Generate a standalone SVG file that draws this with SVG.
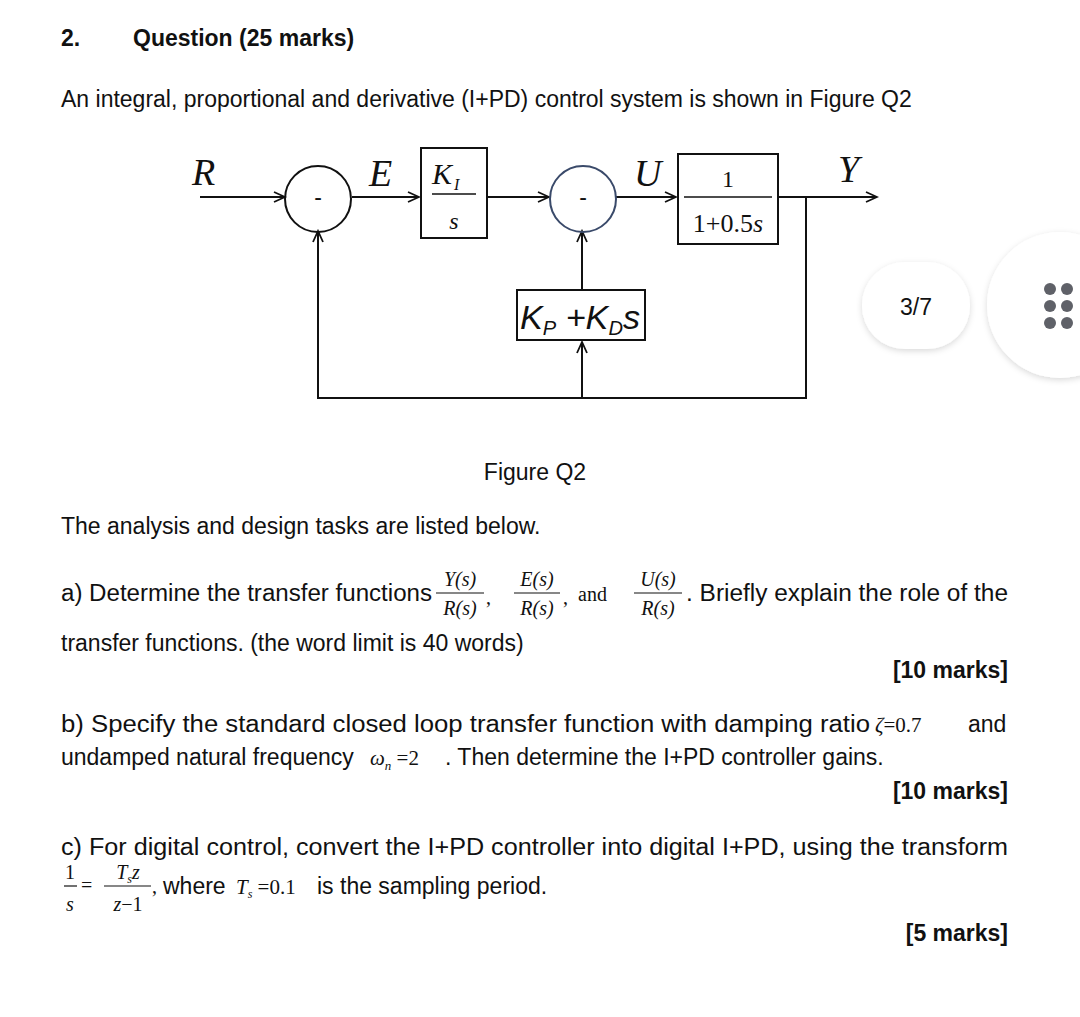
<svg xmlns="http://www.w3.org/2000/svg" width="1080" height="1017" viewBox="0 0 1080 1017">
<style>
.t{font-family:"Liberation Sans",Arial,sans-serif;font-size:23px;fill:#111}
.b{font-weight:bold}
.m{font-family:"Liberation Serif","Times New Roman",serif;fill:#111}
.i{font-style:italic}
.ln{stroke:#111;stroke-width:2;fill:none}
</style>
<defs>
<marker id="ar" markerWidth="14" markerHeight="12" refX="12" refY="6" orient="auto" markerUnits="userSpaceOnUse">
<path d="M1,1 L12,6 L1,11" fill="none" stroke="#111" stroke-width="1.8"/>
</marker>
<filter id="sh" x="-20%" y="-20%" width="140%" height="150%"><feDropShadow dx="0" dy="2" stdDeviation="3" flood-color="#000" flood-opacity="0.15"/></filter>
</defs>
<rect width="1080" height="1017" fill="#fff"/>
<text class="t b" x="61" y="46">2.</text>
<text class="t b" x="133" y="46">Question (25 marks)</text>
<text class="t" x="61" y="107">An integral, proportional and derivative (I+PD) control system is shown in Figure Q2</text>

<g id="connectors">
<line class="ln" x1="200" y1="197" x2="285" y2="197" marker-end="url(#ar)"/>
<line class="ln" x1="352" y1="197" x2="419" y2="197" marker-end="url(#ar)"/>
<line class="ln" x1="488" y1="197" x2="549" y2="197" marker-end="url(#ar)"/>
<line class="ln" x1="616" y1="197" x2="676" y2="197" marker-end="url(#ar)"/>
<line class="ln" x1="779" y1="197" x2="877" y2="197" marker-end="url(#ar)"/>
<polyline class="ln" points="806,197 806,398 318,398 318,231" marker-end="url(#ar)"/>
<line class="ln" x1="582" y1="398" x2="582" y2="342" marker-end="url(#ar)"/>
<line class="ln" x1="582" y1="290" x2="582" y2="231" marker-end="url(#ar)"/>
</g>
<text class="m i" x="192" y="185" font-size="38">R</text>
<text class="m i" x="369" y="186" font-size="38">E</text>
<text class="m i" x="634" y="186" font-size="38">U</text>
<text class="m i" x="838" y="182" font-size="38">Y</text>

<g id="sum1"><circle class="ln" cx="318" cy="199" r="33"/><text class="t" x="318" y="205" text-anchor="middle">-</text></g>
<g id="ki"><rect class="ln" x="421" y="148" width="66" height="90"/>
<line x1="432" y1="194" x2="476" y2="194" stroke="#111" stroke-width="1.5"/>
<text class="m i" x="432" y="184" font-size="30">K</text><text class="m i" x="454" y="190" font-size="16">I</text>
<text class="m i" x="454" y="229" font-size="24" text-anchor="middle">s</text></g>
<g id="sum2"><circle cx="583" cy="199" r="33" fill="none" stroke="#3a4a6a" stroke-width="2"/><text class="t" x="583" y="205" text-anchor="middle">-</text></g>
<g id="plant"><rect class="ln" x="678" y="154" width="100" height="90"/>
<line x1="684" y1="197" x2="772" y2="197" stroke="#111" stroke-width="1.5"/>
<text class="m" x="728" y="187" font-size="24" text-anchor="middle">1</text>
<text class="m" x="728" y="232" font-size="26" text-anchor="middle">1+0.5<tspan font-style="italic">s</tspan></text></g>
<g id="kpd"><rect class="ln" x="517" y="290" width="128" height="50"/>
<text class="i" font-family="'Liberation Sans',Arial,sans-serif" fill="#111" x="520" y="329" font-size="34" textLength="120" lengthAdjust="spacingAndGlyphs">K<tspan font-size="20" dy="6">P</tspan><tspan dy="-6"> +K</tspan><tspan font-size="20" dy="6">D</tspan><tspan dy="-6">s</tspan></text></g>

<g id="pill"><rect x="862" y="262" width="108" height="87" rx="43" fill="#fff" filter="url(#sh)"/><text class="t" x="916" y="315" font-size="25" fill="#333" text-anchor="middle">3/7</text></g>
<g id="menu"><circle cx="1060" cy="305" r="73" fill="#fff" filter="url(#sh)"/>
<g fill="#5f6168"><circle cx="1050" cy="289" r="6"/><circle cx="1067" cy="289" r="6"/><circle cx="1050" cy="306" r="6"/><circle cx="1067" cy="306" r="6"/><circle cx="1050" cy="323" r="6"/><circle cx="1067" cy="323" r="6"/></g></g>

<text class="t" x="535" y="480" text-anchor="middle">Figure Q2</text>
<text class="t" x="61" y="534">The analysis and design tasks are listed below.</text>

<text class="t" x="61" y="601" textLength="371" lengthAdjust="spacingAndGlyphs">a) Determine the transfer functions</text>
<g class="m" font-size="20">
<text class="i" x="460" y="586" text-anchor="middle">Y(s)</text><line x1="436" y1="593" x2="484" y2="593" stroke="#111" stroke-width="1.2"/><text class="i" x="460" y="615" text-anchor="middle">R(s)</text><text x="486" y="604">,</text>
<text class="i" x="537" y="586" text-anchor="middle">E(s)</text><line x1="514" y1="593" x2="560" y2="593" stroke="#111" stroke-width="1.2"/><text class="i" x="537" y="615" text-anchor="middle">R(s)</text><text x="563" y="604">,</text>
<text x="578" y="601">and</text>
<text class="i" x="658" y="586" text-anchor="middle">U(s)</text><line x1="634" y1="593" x2="682" y2="593" stroke="#111" stroke-width="1.2"/><text class="i" x="658" y="615" text-anchor="middle">R(s)</text>
</g>
<text class="t" x="686" y="601" textLength="322" lengthAdjust="spacingAndGlyphs">. Briefly explain the role of the</text>
<text class="t" x="61" y="651">transfer functions. (the word limit is 40 words)</text>
<text class="t b" x="1008" y="678" text-anchor="end">[10 marks]</text>

<text class="t" x="61" y="732" textLength="809" lengthAdjust="spacingAndGlyphs">b) Specify the standard closed loop transfer function with damping ratio</text>
<text class="m" x="875" y="732" font-size="21"><tspan font-style="italic">ζ</tspan>=0.7</text>
<text class="t" x="968" y="732">and</text>
<text class="t" x="61" y="765">undamped natural frequency</text>
<text class="m" x="370" y="765" font-size="21"><tspan font-style="italic">ω</tspan><tspan font-size="13" dy="5" font-style="italic">n</tspan><tspan dy="-5"> =2</tspan></text>
<text class="t" x="445" y="765">. Then determine the I+PD controller gains.</text>
<text class="t b" x="1008" y="799" text-anchor="end">[10 marks]</text>

<text class="t" x="61" y="855" textLength="947" lengthAdjust="spacingAndGlyphs">c) For digital control, convert the I+PD controller into digital I+PD, using the transform</text>
<g class="m" font-size="20">
<text x="70" y="879" text-anchor="middle">1</text><line x1="64" y1="886" x2="77" y2="886" stroke="#111" stroke-width="1.2"/><text class="i" x="70" y="911" text-anchor="middle">s</text>
<text x="81" y="892">=</text>
<text class="i" x="128" y="879" text-anchor="middle">T<tspan font-size="12" dy="4">s</tspan><tspan dy="-4">z</tspan></text><line x1="104" y1="886" x2="151" y2="886" stroke="#111" stroke-width="1.2"/><text x="128" y="911" text-anchor="middle"><tspan font-style="italic">z</tspan>−1</text><text x="152" y="893">,</text>
</g>
<text class="t" x="163" y="894">where</text>
<text class="m" x="236" y="894" font-size="21"><tspan font-style="italic">T</tspan><tspan font-size="12" dy="4" font-style="italic">s</tspan><tspan dy="-4"> =0.1</tspan></text>
<text class="t" x="317" y="894">is the sampling period.</text>
<text class="t b" x="1008" y="941" text-anchor="end">[5 marks]</text>
</svg>
